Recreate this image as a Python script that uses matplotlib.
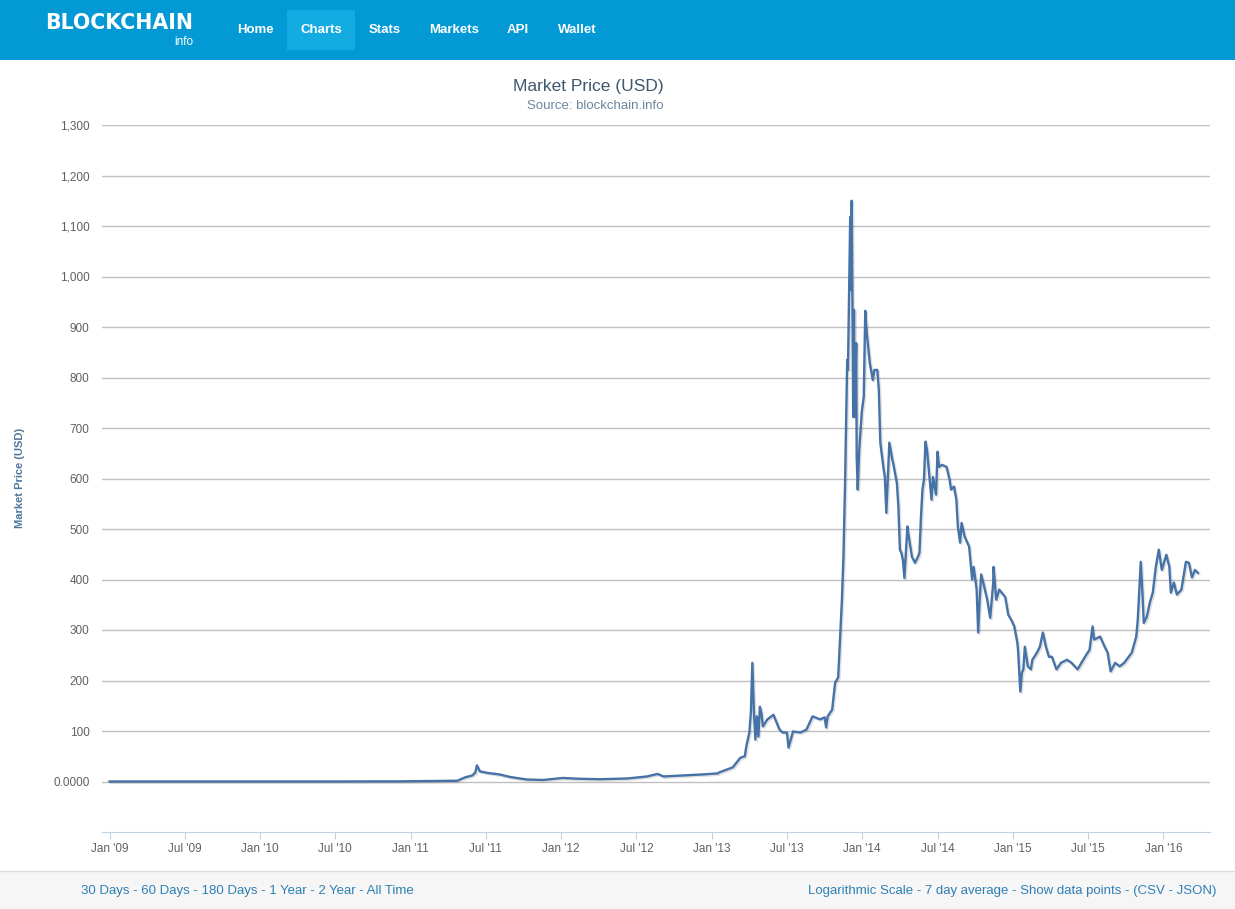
import numpy as np
import matplotlib.pyplot as plt
import matplotlib.patheffects as pe
from matplotlib.patches import Rectangle

# price series: decimal year -> USD
years = [2009.00, 2010.00, 2010.50, 2010.93, 2011.13, 2011.31, 2011.36, 2011.41, 2011.43,
         2011.44, 2011.46, 2011.51, 2011.59, 2011.66, 2011.77, 2011.88, 2012.01, 2012.11,
         2012.26, 2012.44, 2012.57, 2012.64, 2012.68, 2012.81, 2012.94, 2013.04, 2013.05,
         2013.14, 2013.19, 2013.22, 2013.23, 2013.25, 2013.26, 2013.27, 2013.28, 2013.29,
         2013.30, 2013.31, 2013.32, 2013.33, 2013.34, 2013.37, 2013.41, 2013.45, 2013.47,
         2013.50, 2013.51, 2013.54, 2013.59, 2013.63, 2013.67, 2013.72, 2013.75, 2013.76,
         2013.77, 2013.80, 2013.82, 2013.84, 2013.855, 2013.865, 2013.875, 2013.885, 2013.90,
         2013.905, 2013.92, 2013.925, 2013.93, 2013.94, 2013.945, 2013.95, 2013.96, 2013.963,
         2013.97, 2013.98, 2013.997, 2014.01, 2014.02, 2014.03, 2014.05, 2014.07, 2014.08,
         2014.10, 2014.11, 2014.12, 2014.14, 2014.15, 2014.16, 2014.18, 2014.20, 2014.205,
         2014.23, 2014.24, 2014.25, 2014.26, 2014.27, 2014.28, 2014.30, 2014.305, 2014.33,
         2014.35, 2014.37, 2014.38, 2014.39, 2014.40, 2014.41, 2014.42, 2014.43, 2014.46,
         2014.47, 2014.49, 2014.50, 2014.51, 2014.53, 2014.56, 2014.58, 2014.59, 2014.61,
         2014.625, 2014.635, 2014.65, 2014.66, 2014.68, 2014.71, 2014.73, 2014.74, 2014.76,
         2014.77, 2014.78, 2014.79, 2014.81, 2014.83, 2014.85, 2014.87, 2014.872, 2014.89,
         2014.91, 2014.95, 2014.97, 2014.99, 2015.01, 2015.03, 2015.035, 2015.05, 2015.06,
         2015.07, 2015.08, 2015.10, 2015.12, 2015.13, 2015.16, 2015.18, 2015.20, 2015.22,
         2015.24, 2015.26, 2015.29, 2015.32, 2015.36, 2015.39, 2015.43, 2015.48, 2015.51,
         2015.53, 2015.54, 2015.58, 2015.61, 2015.63, 2015.65, 2015.68, 2015.71, 2015.74,
         2015.79, 2015.82, 2015.83, 2015.85, 2015.86, 2015.87, 2015.89, 2015.91, 2015.93,
         2015.95, 2015.97, 2015.99, 2016.02, 2016.04, 2016.05, 2016.07, 2016.09, 2016.12,
         2016.15, 2016.17, 2016.19, 2016.21, 2016.23]
price = [0, 0, 0.06, 0.3, 0.9, 1.5, 8, 12, 18,
         32, 20, 17, 14, 9, 4, 3, 7, 5.5,
         4.5, 6, 10, 15, 10, 12, 14, 16, 18,
         28, 47, 50, 70, 97, 136, 235, 142, 83,
         129, 89, 148, 136, 109, 123, 132, 103, 97,
         97, 67, 99, 97, 103, 129, 123, 127, 107,
         129, 142, 196, 206, 297, 360, 445, 578, 835,
         815, 1118, 973, 1150, 722, 934, 722, 868, 643,
         578, 657, 732, 762, 932, 888, 829, 795, 815,
         815, 776, 671, 623, 603, 532, 671, 637, 631,
         591, 544, 459, 453, 439, 403, 505, 493, 445,
         433, 445, 453, 524, 578, 598, 673, 657, 558,
         603, 568, 653, 623, 627, 623, 598, 578, 584,
         558, 505, 473, 512, 485, 465, 400, 425, 380,
         295, 360, 410, 386, 360, 324, 394, 425, 360,
         380, 365, 330, 320, 307, 275, 260, 178, 215,
         222, 267, 228, 222, 241, 255, 267, 295, 267,
         247, 247, 222, 235, 241, 235, 222, 247, 261,
         307, 281, 287, 267, 255, 218, 235, 228, 235,
         255, 287, 320, 435, 380, 314, 326, 354, 374,
         425, 459, 419, 449, 425, 374, 394, 370, 380,
         435, 433, 404, 419, 413]

tick_years = np.arange(2009, 2016.01, 0.5)
tick_labels = ["Jan '09", "Jul '09", "Jan '10", "Jul '10", "Jan '11", "Jul '11", "Jan '12",
               "Jul '12", "Jan '13", "Jul '13", "Jan '14", "Jul '14", "Jan '15", "Jul '15",
               "Jan '16"]
y_ticks = list(range(0, 1301, 100))

nav_items = ['Home', 'Charts', 'Stats', 'Markets', 'API', 'Wallet']
left_links = "30 Days - 60 Days - 180 Days - 1 Year - 2 Year - All Time"
right_links = "Logarithmic Scale - 7 day average - Show data points - (CSV - JSON)"

W, H = 1235, 909
fig = plt.figure(figsize=(W / 100, H / 100), dpi=100)
fig.patch.set_facecolor('white')

# page chrome drawn in pixel coordinates
bg = fig.add_axes([0, 0, 1, 1])
bg.set_xlim(0, W)
bg.set_ylim(H, 0)
bg.axis('off')
bg.add_patch(Rectangle((0, 0), W, 60, color='#0399d4', lw=0))
bg.add_patch(Rectangle((287, 10), 68, 40, color='#14abe2', lw=0))
bg.text(45, 23, 'BLOCKCHAIN', color='white', fontsize=14.8, fontweight='bold',
        family='DejaVu Sans', va='center', ha='left')
bg.text(193, 42, 'info', color='white', fontsize=8.5, va='center', ha='right',
        family='Liberation Sans')
for name, x in zip(nav_items, [255, 321, 385, 454, 518, 577]):
    bg.text(x, 30, name, color='white', fontsize=9.5, fontweight='bold', va='center',
            ha='center', family='Liberation Sans')

bg.add_patch(Rectangle((0, 871), W, 38, color='#f6f6f6', lw=0))
bg.plot([0, W], [871, 871], color='#dddddd', lw=1)
bg.text(81, 891, left_links, color='#2f7fb5', fontsize=9.5, va='center', ha='left',
        family='Liberation Sans')
bg.text(1216, 891, right_links, color='#2f7fb5', fontsize=9.5, va='center', ha='right',
        family='Liberation Sans')

bg.text(588, 87, 'Market Price (USD)', color='#3e576f', fontsize=12.5, ha='center',
        va='center', family='Liberation Sans')
bg.text(595, 106, 'Source: blockchain.info', color='#6d869f', fontsize=9.5, ha='center',
        va='center', family='Liberation Sans')
bg.text(20, 478, 'Market Price (USD)', color='#4d759e', fontsize=8, fontweight='bold',
        rotation=90, ha='center', va='center', family='Liberation Sans')

# chart
ax = fig.add_axes([102 / W, 1 - 832 / H, 1108 / W, 707 / H])
ax.set_facecolor('none')
ax.plot(years, price, color='#4572a7', lw=1.7, solid_joinstyle='round',
        path_effects=[pe.SimpleLineShadow(offset=(1, -1), alpha=0.12, shadow_color='k'),
                      pe.Normal()], zorder=3)
ax.set_xlim(2008.95, 2016.31)
ax.set_ylim(-100, 1300)
ax.set_yticks(y_ticks)
ax.set_yticklabels(['0.0000' if v == 0 else f'{v:,}' for v in y_ticks])
ax.set_xticks(tick_years)
ax.set_xticklabels(tick_labels)
ax.grid(axis='y', color='#c0c0c0', lw=1)
ax.set_axisbelow(True)
for s in ['top', 'right', 'left']:
    ax.spines[s].set_visible(False)
ax.spines['bottom'].set_color('#c0d0e0')
ax.tick_params(axis='y', length=0, pad=9, labelsize=8.5, labelcolor='#606060')
ax.tick_params(axis='x', length=5, color='#c0d0e0', pad=3, labelsize=8.5, labelcolor='#606060')
for lab in ax.get_xticklabels() + ax.get_yticklabels():
    lab.set_family('Liberation Sans')

fig.savefig('out.png', dpi=100)
